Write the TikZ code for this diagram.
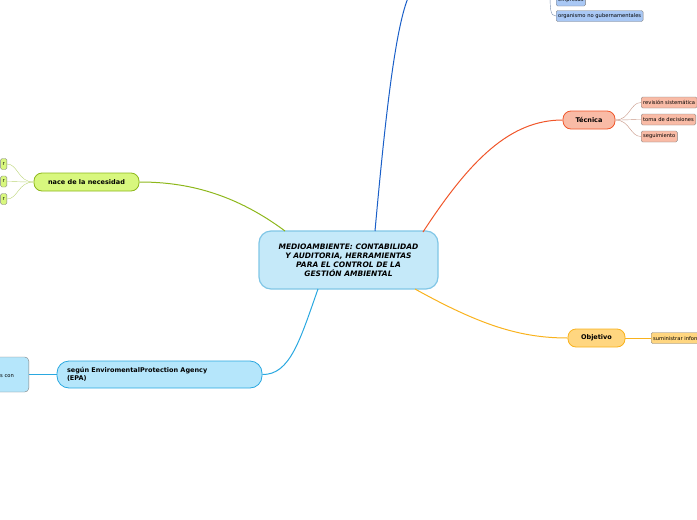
\documentclass[tikz,border=0pt]{standalone}
\usepackage{fontspec}
\setmainfont{DejaVu Sans}
\usetikzlibrary{positioning}
\definecolor{centerfill}{HTML}{C5E9F9}
\definecolor{centerdraw}{HTML}{80C6E6}
\definecolor{blueline}{HTML}{1A5FC8}
\definecolor{bluefill}{HTML}{A9C8F5}
\definecolor{redline}{HTML}{F0562A}
\definecolor{redfill}{HTML}{F9BBA6}
\definecolor{orangeline}{HTML}{F9B21D}
\definecolor{orangefill}{HTML}{FFD680}
\definecolor{greenline}{HTML}{8DB71B}
\definecolor{greenfill}{HTML}{D8F77E}
\definecolor{cyanline}{HTML}{2AA8E0}
\definecolor{cyanfill}{HTML}{B5E6FB}
\begin{document}
\begin{tikzpicture}[x=1pt,y=-1pt,
central/.style={draw=centerdraw, line width=1.2pt, fill=centerfill, rounded corners=12pt, minimum width=179pt, minimum height=58pt, align=center, font=\fontsize{7.5}{9}\selectfont\bfseries\itshape},
mainnode/.style={line width=0.8pt, rounded corners=8pt, minimum height=18pt, font=\fontsize{6.5}{7.5}\selectfont\bfseries},
subnode/.style={draw=black!50, rounded corners=1.5pt, minimum height=11pt, inner sep=2pt, font=\fontsize{5.2}{6}\selectfont},
link/.style={line width=1pt},
twig/.style={line width=0.4pt},
]
\useasboundingbox (0,0) rectangle (697,520);
\clip (0,0) rectangle (697,520);
\node[central] (c) at (348.5,260) {MEDIOAMBIENTE: CONTABILIDAD\\Y AUDITORIA, HERRAMIENTAS\\PARA EL CONTROL DE LA\\GESTIÓN AMBIENTAL};

% upper branch
\coordinate (top) at (408,-2);
\draw[link, blueline] (375,231) .. controls (385,120) and (395,30) .. (top);
\node[subnode, fill=bluefill, anchor=west] (emp) at (556,0.5) {empresas};
\node[subnode, fill=bluefill, anchor=west] (ong) at (556,16) {organismo no gubernamentales};
\draw[twig, bluefill!70!black] (550,-15) .. controls (550,10) and (550,16) .. (ong.west);

% tecnica
\node[mainnode, draw=redline, fill=redfill, minimum width=52pt] (tec) at (589,120) {Técnica};
\draw[link, redline] (423,232) .. controls (470,160) and (510,120) .. (tec.west);
\node[subnode, fill=redfill, anchor=west] (rev) at (641,102.5) {revisión sistemática};
\node[subnode, fill=redfill, anchor=west] (tom) at (641,119.5) {toma de decisiones};
\node[subnode, fill=redfill, anchor=west] (seg) at (641,136.5) {seguimiento};
\foreach \n in {rev,tom,seg}
  \draw[twig, redfill!80!black] (tec.east) .. controls (630,120) and (630,120 |- \n.west) .. (\n.west);

% objetivo
\node[mainnode, draw=orangeline, fill=orangefill, minimum width=57pt] (obj) at (596.5,338) {Objetivo};
\draw[link, orangeline] (415,289) .. controls (480,325) and (520,338) .. (obj.west);
\node[subnode, fill=orangefill, anchor=west] (sum) at (651,338) {suministrar información};
\draw[twig, orangeline] (obj.east) -- (sum.west);

% nace
\node[mainnode, draw=greenline, fill=greenfill, minimum width=105pt] (nace) at (86.5,182) {nace de la necesidad};
\draw[link, greenline] (285,231) .. controls (230,190) and (180,182) .. (nace.east);
\node[subnode, fill=greenfill, anchor=east] (n1) at (7,164) {r};
\node[subnode, fill=greenfill, anchor=east] (n2) at (7,181.5) {r};
\node[subnode, fill=greenfill, anchor=east] (n3) at (7,199) {r};
\foreach \n in {n1,n2,n3}
  \draw[twig, greenline!60] (nace.west) .. controls (18,182) and (18,182 |- \n.east) .. (\n.east);

% epa
\node[mainnode, draw=cyanline, fill=cyanfill, minimum width=205pt, minimum height=27pt, rounded corners=12pt, align=left, text width=185pt] (epa) at (159.5,374.5) {según EnviromentalProtection Agency\\(EPA)};
\draw[link, cyanline] (318,289) .. controls (300,340) and (290,375) .. (epa.east);
\node[draw=black!50, fill=cyanfill, rounded corners=4pt, minimum width=50pt, minimum height=35pt, anchor=east, align=right, font=\fontsize{5.2}{6}\selectfont] (epa1) at (29,374.5) {\\das con};
\draw[twig, cyanline] (epa1.east) -- (epa.west);
\end{tikzpicture}
\end{document}
